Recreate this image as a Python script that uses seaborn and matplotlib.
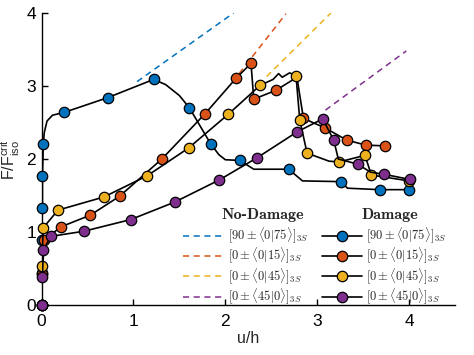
import matplotlib
matplotlib.use('Agg')
import matplotlib.pyplot as plt
from matplotlib.lines import Line2D
from matplotlib.font_manager import FontProperties
import seaborn as sns

# MATLAB default colour order
colors = ['#0072BD', '#D95319', '#EDB120', '#7E2F8E']
labels = [r'$[90 \pm \langle 0|75\rangle]_{3S}$',
          r'$[0 \pm \langle 0|15\rangle]_{3S}$',
          r'$[0 \pm \langle 0|45\rangle]_{3S}$',
          r'$[0 \pm \langle 45|0\rangle]_{3S}$']

# --- damage curves: line vertices ---
blue_line_x = [0, 0, 0.0, 0.01, 0.01, 0.02, 0.03, 0.06, 0.12, 0.25, 0.72, 1.22, 1.35, 1.50, 1.61,
               1.84, 1.93, 2.00, 2.16, 2.31, 2.69, 2.84, 3.26, 3.33, 3.68, 4.00]
blue_line_y = [0, 0.44, 0.89, 1.33, 1.77, 2.21, 2.36, 2.52, 2.60, 2.64, 2.84, 3.09, 3.02, 2.87, 2.70,
               2.21, 2.06, 1.99, 1.98, 1.86, 1.86, 1.70, 1.69, 1.60, 1.58, 1.58]
orange_line_x = [0, 0.01, 0.03, 0.21, 0.53, 0.85, 1.31, 1.78, 2.12, 2.28, 2.31, 2.55, 2.78,
                 2.85, 2.95, 3.08, 3.32, 3.53, 3.74]
orange_line_y = [0, 0.43, 0.89, 1.07, 1.23, 1.49, 2.00, 2.62, 3.11, 3.31, 2.82, 2.94, 3.12,
                 2.56, 2.50, 2.43, 2.26, 2.19, 2.18]
yellow_line_x = [0, 0.0, 0.02, 0.18, 0.68, 1.15, 1.60, 2.03, 2.38, 2.52, 2.58, 2.62, 2.70, 2.77,
                 2.81, 2.89, 3.13, 3.24, 3.52, 3.59, 4.00]
yellow_line_y = [0, 0.53, 1.06, 1.30, 1.48, 1.77, 2.15, 2.61, 3.01, 3.09, 3.17, 3.12, 3.18, 3.14,
                 2.54, 2.08, 1.97, 1.96, 2.05, 1.78, 1.70]
purple_line_x = [0, 0.01, 0.02, 0.10, 0.46, 0.97, 1.45, 1.93, 2.35, 2.78, 3.06, 3.18, 3.23,
                 3.44, 3.58, 3.73, 4.01]
purple_line_y = [0, 0.39, 0.75, 0.94, 1.01, 1.17, 1.41, 1.71, 2.02, 2.37, 2.55, 2.26, 2.00,
                 1.93, 1.82, 1.79, 1.72]

# --- damage curves: marker positions ---
blue_mk_x = [0, 0, 0, 0.01, 0.01, 0.02, 0.25, 0.72, 1.22, 1.61, 1.84, 2.16, 2.69, 3.26, 3.68, 4.00]
blue_mk_y = [0, 0.44, 0.89, 1.33, 1.77, 2.21, 2.64, 2.84, 3.09, 2.70, 2.21, 1.98, 1.86, 1.69, 1.58, 1.58]
orange_mk_x = [0, 0.01, 0.03, 0.21, 0.53, 0.85, 1.31, 1.78, 2.12, 2.28, 2.31, 2.55, 2.85, 3.08,
               3.32, 3.53, 3.74]
orange_mk_y = [0, 0.43, 0.89, 1.07, 1.23, 1.49, 2.00, 2.62, 3.11, 3.31, 2.82, 2.94, 2.56, 2.43,
               2.26, 2.19, 2.18]
yellow_mk_x = [0, 0.0, 0.02, 0.18, 0.68, 1.15, 1.60, 2.03, 2.38, 2.77, 2.81, 2.89, 3.24, 3.52,
               3.59, 4.00]
yellow_mk_y = [0, 0.53, 1.06, 1.30, 1.48, 1.77, 2.15, 2.61, 3.01, 3.14, 2.54, 2.08, 1.96, 2.05,
               1.78, 1.70]
purple_mk_x = [0, 0.01, 0.02, 0.10, 0.46, 0.97, 1.45, 1.93, 2.35, 2.78, 3.06, 3.18, 3.44, 3.73, 4.01]
purple_mk_y = [0, 0.39, 0.75, 0.94, 1.01, 1.17, 1.41, 1.71, 2.02, 2.37, 2.55, 2.26, 1.93, 1.79, 1.72]

# --- no-damage curves (visible dashed part) ---
blue_nd_x, blue_nd_y = [1.04, 2.09], [3.06, 4.00]
orange_nd_x, orange_nd_y = [2.15, 2.66], [3.17, 3.99]
yellow_nd_x, yellow_nd_y = [2.45, 3.15], [3.13, 4.00]
purple_nd_x, purple_nd_y = [3.09, 3.97], [2.67, 3.48]

lines = [(blue_line_x, blue_line_y), (orange_line_x, orange_line_y),
         (yellow_line_x, yellow_line_y), (purple_line_x, purple_line_y)]
marks = [(blue_mk_x, blue_mk_y), (orange_mk_x, orange_mk_y),
         (yellow_mk_x, yellow_mk_y), (purple_mk_x, purple_mk_y)]
nodmg = [(blue_nd_x, blue_nd_y), (orange_nd_x, orange_nd_y),
         (yellow_nd_x, yellow_nd_y), (purple_nd_x, purple_nd_y)]

sns.set_style('ticks')
plt.rcParams.update({
    'font.family': ['Liberation Sans', 'DejaVu Sans'],
    'mathtext.fontset': 'custom',
    'mathtext.rm': 'Liberation Sans',
    'mathtext.it': 'Liberation Sans:italic',
    'axes.edgecolor': 'black',
    'axes.linewidth': 1.0,
    'xtick.color': 'black',
    'ytick.color': 'black',
})

fig = plt.figure(figsize=(4.74, 3.55), dpi=100)
ax = fig.add_axes([41.5 / 474, 1 - 305 / 355, (455 - 41.5) / 474, (305 - 13) / 355])

ms = 7.5
for i, c in enumerate(colors):
    nx, ny = nodmg[i]
    sns.lineplot(x=nx, y=ny, ax=ax, color=c, lw=1.1, sort=False, estimator=None,
                 zorder=2).lines[-1].set_dashes((4, 3))
for i, c in enumerate(colors):
    lx, ly = lines[i]
    mx, my = marks[i]
    sns.lineplot(x=lx, y=ly, ax=ax, color='black', lw=1.2, sort=False, estimator=None,
                 zorder=3 + 2 * i)
    sns.scatterplot(x=mx, y=my, ax=ax, color=c, edgecolor='black', linewidth=0.9,
                    s=ms ** 2, zorder=4 + 2 * i, clip_on=False)

ax.set_xlim(0, 4.5)
ax.set_ylim(0, 4)
ax.set_xticks([0, 1, 2, 3, 4])
ax.set_yticks([0, 1, 2, 3, 4])
ax.tick_params(direction='in', length=4, width=1, labelsize=12.5)
ax.tick_params(axis='x', pad=6.5)
ax.tick_params(axis='y', pad=4)
sns.despine(ax=ax)
ax.set_xlabel('u/h', fontsize=11.5)
ax.set_ylabel(r'F/F$^{\mathrm{crit}}_{\mathrm{iso}}$', fontsize=11.5)
ax.xaxis.set_label_coords(0.5, -0.09)
ax.yaxis.set_label_coords(-0.047, 0.5)

# legends
prop = FontProperties(size=9, math_fontfamily='cm')
nd_handles = [Line2D([], [], color=c, lw=1.1, ls=(0, (4, 3))) for c in colors]
d_handles = [Line2D([], [], color='black', lw=1.2, marker='o', mfc=c, mec='black',
                    mew=0.9, ms=ms) for c in colors]
leg1 = ax.legend(nd_handles, labels, loc='upper left', bbox_to_anchor=(183 / 474, 1 - 226 / 355),
                 bbox_transform=fig.transFigure, frameon=False, prop=prop, handlelength=3.1,
                 handletextpad=0.5, labelspacing=0.0, borderpad=0, borderaxespad=0)
ax.add_artist(leg1)
leg2 = ax.legend(d_handles, labels, loc='upper left', bbox_to_anchor=(322 / 474, 1 - 226 / 355),
                 bbox_transform=fig.transFigure, frameon=False, prop=prop, handlelength=3.2,
                 handletextpad=0.3, labelspacing=0.0, borderpad=0, borderaxespad=0)
fig.text(263 / 474, 1 - 215 / 355, 'No-Damage', fontfamily='cmb10', fontsize=11.5,
         ha='center', va='center')
fig.text(390 / 474, 1 - 215 / 355, 'Damage', fontfamily='cmb10', fontsize=11.5,
         ha='center', va='center')

fig.savefig('out.png', dpi=100)
plt.close(fig)
